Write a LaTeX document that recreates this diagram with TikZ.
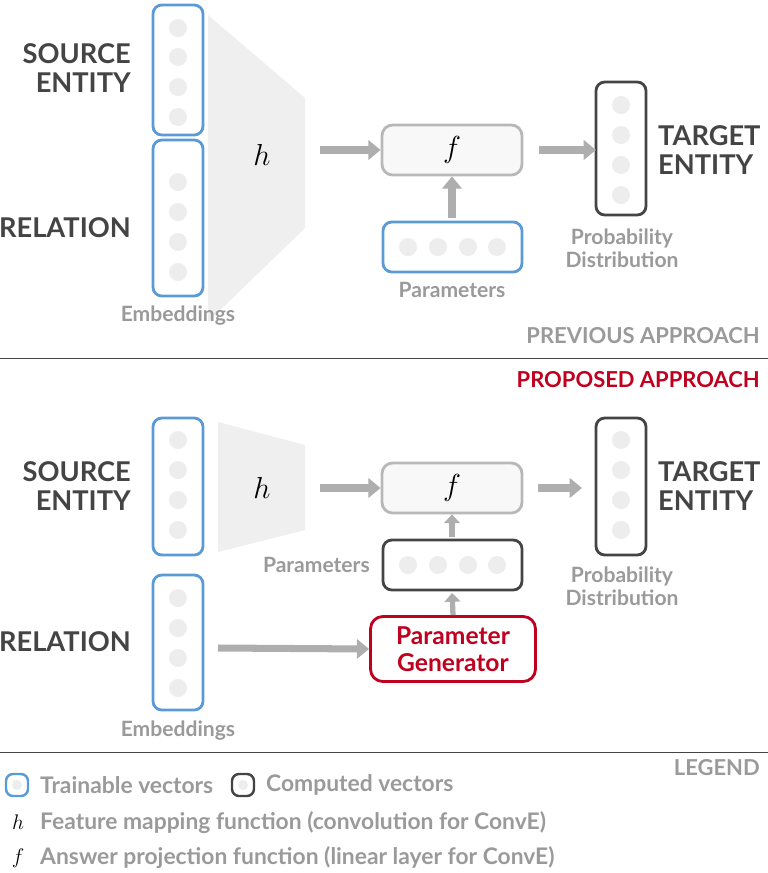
\documentclass[tikz,border=0pt]{standalone}
\usepackage{fontspec}
\setmainfont{Lato}
\usetikzlibrary{arrows.meta}
\definecolor{blu}{HTML}{5A9BD5}
\definecolor{dk}{HTML}{444444}
\definecolor{lg}{HTML}{9A9A9A}
\definecolor{rd}{HTML}{C0001F}
\definecolor{cf}{HTML}{EDEDED}
\tikzset{
 vec/.style={draw=#1,line width=1.6pt,rounded corners=5pt,fill=white},
 dot/.style={circle,fill=cf,minimum size=0.36cm,inner sep=0pt},
 big/.style={font=\fontsize{15.5}{17}\selectfont\bfseries,text=dk,align=right},
 lab/.style={font=\fontsize{12}{13}\selectfont\bfseries,text=lg,align=center},
 leglab/.style={font=\fontsize{13}{14}\selectfont\bfseries,text=lg,anchor=west},
 arr/.style={-{Triangle[length=7pt,width=11pt]},line width=4pt,draw=lg!80},
 fbox/.style={draw=lg!70,line width=1.6pt,rounded corners=6pt,fill=cf!40,minimum width=2.8cm,minimum height=1cm},
 trap/.style={fill=cf!90,draw=none},
}
\begin{document}
\begin{tikzpicture}[x=0.02cm,y=-0.02cm]
\useasboundingbox (0,0) rectangle (768,873);
% ---------- top
\draw[trap] (208,15) -- (305,98) -- (305,228) -- (208,322) -- cycle;
\node[font=\fontsize{19}{20}\selectfont] (h1) at (262,155) {$h$};
\draw[vec=blu] (153,5) rectangle (203,135);
\foreach \y in {28,57,87,117}\node[dot] at (178,\y) {};
\draw[vec=blu] (153,140) rectangle (203,296);
\foreach \y in {182,212,242,272}\node[dot] at (178,\y) {};
\node[big,anchor=east] (se1) at (137,68) {SOURCE\\ENTITY};
\node[big,anchor=east] (re1) at (137,228) {RELATION};
\node[lab] (em1) at (178,316) {Embeddings};
\coordinate (a1) at (320,150);
\node[fbox] (f1) at (452,150) {\fontsize{19}{20}\selectfont$f$};
\draw[arr] (a1) -- (f1.west);
\draw[vec=blu] (383,222) rectangle (522,272);
\foreach \x in {408,438,468,497}\node[dot] at (\x,247) {};
\draw[arr] (452,218) -- (f1.south);
\node[lab] (pl1) at (452,290) {Parameters};
\draw[vec=dk] (596,82) rectangle (646,215);
\foreach \y in {105,135,165,195}\node[dot] at (621,\y) {};
\node (t1) at (596,150) {};
\draw[arr] (f1.east) ++(16,0) -- (t1.center);
\node[big,anchor=west,align=left] (te1) at (652,150) {TARGET\\ENTITY};
\node[lab] (pd1) at (622,248) {Probability\\Distribution};
\node[lab,anchor=east,font=\fontsize{12.5}{14}\selectfont\bfseries] (prev) at (766,336) {PREVIOUS APPROACH};
\draw[dk,line width=0.5pt] (0,358) -- (768,358);
\node[lab,anchor=east,text=rd,font=\fontsize{12.5}{14}\selectfont\bfseries] (prop) at (766,380) {PROPOSED APPROACH};
% ---------- bottom
\draw[trap] (218,422) -- (305,445) -- (305,530) -- (218,552) -- cycle;
\node[font=\fontsize{19}{20}\selectfont] (h2) at (262,488) {$h$};
\draw[vec=blu] (153,418) rectangle (203,555);
\foreach \y in {440,470,500,530}\node[dot] at (178,\y) {};
\draw[vec=blu] (153,575) rectangle (203,710);
\foreach \y in {598,628,658,688}\node[dot] at (178,\y) {};
\node[big,anchor=east] (se2) at (137,486) {SOURCE\\ENTITY};
\node[big,anchor=east] (re2) at (137,642) {RELATION};
\node[lab] (em2) at (178,731) {Embeddings};
\node[fbox] (f2) at (452,488) {\fontsize{19}{20}\selectfont$f$};
\draw[arr] (320,488) -- (f2.west);
\draw[vec=dk] (383,540) rectangle (522,590);
\foreach \x in {408,438,468,497}\node[dot] at (\x,565) {};
\draw[arr,line width=3pt,-{Triangle[length=5pt,width=9pt]}] (452,537) -- (f2.south);
\node[lab,anchor=east] (pl2) at (376,565) {Parameters};
\node[draw=rd,line width=1.6pt,rounded corners=7pt,fill=white,minimum width=3.3cm,minimum height=1.3cm,font=\fontsize{14}{15.5}\selectfont\bfseries,text=rd,align=center] (pg) at (453,649) {Parameter\\Generator};
\draw[arr,line width=3pt,-{Triangle[length=5pt,width=9pt]}] (pg.north) -- (452,593);
\draw[arr] (218,648) -- (pg.west);
\draw[vec=dk] (596,418) rectangle (646,555);
\foreach \y in {440,470,500,530}\node[dot] at (621,\y) {};
\draw[arr] (538,488) -- (582,488);
\node[big,anchor=west,align=left] (te2) at (652,486) {TARGET\\ENTITY};
\node[lab] (pd2) at (622,586) {Probability\\Distribution};
\draw[dk,line width=0.5pt] (0,752) -- (768,752);
\node[lab,anchor=east,font=\fontsize{12.5}{14}\selectfont\bfseries] (leg) at (766,768) {LEGEND};
% legend
\draw[vec=blu,line width=1.4pt,rounded corners=4pt] (6,774) rectangle (28,796);
\node[dot,minimum size=0.2cm] at (17,785) {};
\node[leglab] (l1) at (34,785) {Trainable vectors};
\draw[vec=dk,line width=1.4pt,rounded corners=4pt] (232,774) rectangle (254,796);
\node[dot,minimum size=0.2cm] at (243,785) {};
\node[leglab] (l2) at (260,785) {Computed vectors};
\node[font=\fontsize{13}{14}\selectfont] (lh) at (18,822) {$h$};
\node[leglab] (l3) at (34,823) {Feature mapping function (convolution for ConvE)};
\node[font=\fontsize{13}{14}\selectfont] (lf) at (18,858) {$f$};
\node[leglab] (l4) at (34,858) {Answer projection function (linear layer for ConvE)};
\end{tikzpicture}
\end{document}
